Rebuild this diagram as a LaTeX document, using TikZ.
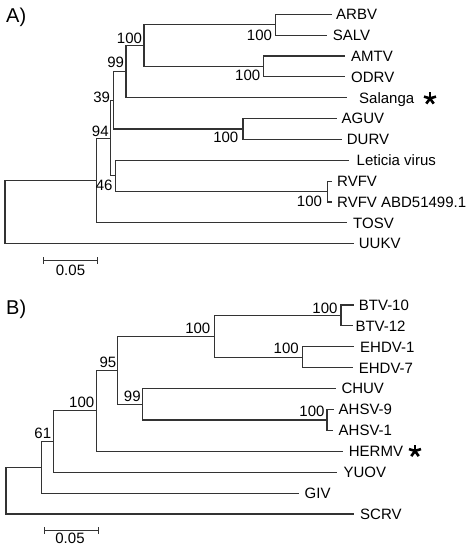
\documentclass[tikz,border=0pt]{standalone}
\usepackage{fontspec}
\setmainfont{Liberation Sans}
\begin{document}
\begin{tikzpicture}[x=1pt,y=-1pt,
  br/.style={line width=1.1pt, draw=black!80},
  leaf/.style={anchor=base west, inner sep=0pt, yshift=-5.3pt, font=\fontsize{15}{18}\selectfont},
  boot/.style={anchor=center, inner sep=0pt, font=\fontsize{15}{18}\selectfont},
  panel/.style={anchor=base west, inner sep=0pt, font=\fontsize{20}{24}\selectfont},
  sbar/.style={line width=1.1pt, draw=black!80},
  starsty/.style={line width=2.6pt, line cap=butt}]
\useasboundingbox (0,0) rectangle (474,550);

% ---------------- Panel A ----------------
\node[panel] (lA) at (6,22.7) {A)};

\coordinate (tARBV) at (332,14.3);
\coordinate (tSALV) at (327,35.15);
\coordinate (tAMTV) at (345,56);
\coordinate (tODRV) at (345,76.85);
\coordinate (tSAL) at (347,97.7);
\coordinate (tAGUV) at (337,118.55);
\coordinate (tDURV) at (342,139.4);
\coordinate (tLET) at (348.7,160.25);
\coordinate (tRVFV) at (332,181.1);
\coordinate (tRVFVb) at (332,201.95);
\coordinate (tTOSV) at (347,222.8);
\coordinate (tUUKV) at (353.7,243.65);

\coordinate (a1) at (275.7,24.725);
\coordinate (a2) at (263.7,66.425);
\coordinate (a3) at (144,45.575);
\coordinate (a4) at (126,71.64);
\coordinate (a5) at (243,128.975);
\coordinate (a6) at (113.3,100.3);
\coordinate (a7) at (327.7,191.525);
\coordinate (a8) at (115.5,175.9);
\coordinate (a9) at (110.7,138.1);
\coordinate (a10) at (96.7,180.45);
\coordinate (aR) at (5,212.05);

\draw[br] (a1) |- (tARBV);  \draw[br] (a1) |- (tSALV);
\draw[br] (a2) |- (tAMTV);  \draw[br] (a2) |- (tODRV);
\draw[br] (a3) |- (a1);     \draw[br] (a3) |- (a2);
\draw[br] (a4) |- (a3);     \draw[br] (a4) |- (tSAL);
\draw[br] (a5) |- (tAGUV);  \draw[br] (a5) |- (tDURV);
\draw[br] (a6) |- (a4);     \draw[br] (a6) |- (a5);
\draw[br] (a7) |- (tRVFV);  \draw[br] (a7) |- (tRVFVb);
\draw[br] (a8) |- (tLET);   \draw[br] (a8) |- (a7);
\draw[br] (a9) |- (a6);     \draw[br] (a9) |- (a8);
\draw[br] (a10) |- (a9);    \draw[br] (a10) |- (tTOSV);
\draw[br] (aR) |- (a10);    \draw[br] (aR) |- (tUUKV);

\node[leaf] (nARBV) at (336,14.3) {ARBV};
\node[leaf] (nSALV) at (332.7,35.15) {SALV};
\node[leaf] (nAMTV) at (351,56) {AMTV};
\node[leaf] (nODRV) at (351,76.85) {ODRV};
\node[leaf] (nSAL) at (359,97.7) {Salanga};
\node[leaf] (nAGUV) at (341.5,118.55) {AGUV};
\node[leaf] (nDURV) at (346.7,139.4) {DURV};
\node[leaf] (nLET) at (356.5,160.25) {Leticia virus};
\node[leaf] (nRVFV) at (337,181.1) {RVFV};
\node[leaf] (nRVFVb) at (337,201.95) {RVFV ABD51499.1};
\node[leaf] (nTOSV) at (353,222.8) {TOSV};
\node[leaf] (nUUKV) at (358.7,243.65) {UUKV};

\node[boot] (bA1) at (259.5,35) {100};
\node[boot] (bA2) at (247.7,75) {100};
\node[boot] (bA3) at (129.5,38.3) {100};
\node[boot] (bA4) at (115.7,62) {99};
\node[boot] (bA6) at (101.7,97) {39};
\node[boot] (bA5) at (225.8,137.5) {100};
\node[boot] (bA9) at (100.3,131.7) {94};
\node[boot] (bA8) at (104.2,185) {46};
\node[boot] (bA7) at (309.5,201.7) {100};

\coordinate (sA) at (430,98.5);
\foreach \ang in {90,18,162,234,306} \draw[starsty] (sA) -- ++(\ang:6.3pt);

\coordinate (sbA1) at (43.3,260.7);
\coordinate (sbA2) at (97.7,260.7);
\draw[sbar] (sbA1) -- (sbA2);
\draw[sbar] ([yshift=3.3pt]sbA1) -- ([yshift=-3.3pt]sbA1);
\draw[sbar] ([yshift=3.3pt]sbA2) -- ([yshift=-3.3pt]sbA2);
\node[boot] (scA) at (70.5,270.7) {0.05};

% ---------------- Panel B ----------------
\node[panel] (lB) at (6,314.7) {B)};

\coordinate (tBTV10) at (354.3,305);
\coordinate (tBTV12) at (353,325.9);
\coordinate (tEHDV1) at (354.3,346.8);
\coordinate (tEHDV7) at (353,367.7);
\coordinate (tCHUV) at (336,388.6);
\coordinate (tAHSV9) at (333.7,409.5);
\coordinate (tAHSV1) at (332.7,430.4);
\coordinate (tHERMV) at (343,451.3);
\coordinate (tYUOV) at (337,472.2);
\coordinate (tGIV) at (298.7,493.1);
\coordinate (tSCRV) at (354.3,514);

\coordinate (b1) at (341,315.45);
\coordinate (b2) at (302.7,357.25);
\coordinate (b3) at (214.3,336.35);
\coordinate (b4) at (327,419.95);
\coordinate (b5) at (142.7,404.275);
\coordinate (b6) at (117.3,370.3);
\coordinate (b7) at (96.7,410.8);
\coordinate (b8) at (53.3,441.5);
\coordinate (b9) at (41.7,467.3);
\coordinate (bR) at (6,490.65);

\draw[br] (b1) |- (tBTV10);  \draw[br] (b1) |- (tBTV12);
\draw[br] (b2) |- (tEHDV1);  \draw[br] (b2) |- (tEHDV7);
\draw[br] (b3) |- (b1);      \draw[br] (b3) |- (b2);
\draw[br] (b4) |- (tAHSV9);  \draw[br] (b4) |- (tAHSV1);
\draw[br] (b5) |- (tCHUV);   \draw[br] (b5) |- (b4);
\draw[br] (b6) |- (b3);      \draw[br] (b6) |- (b5);
\draw[br] (b7) |- (b6);      \draw[br] (b7) |- (tHERMV);
\draw[br] (b8) |- (b7);      \draw[br] (b8) |- (tYUOV);
\draw[br] (b9) |- (b8);      \draw[br] (b9) |- (tGIV);
\draw[br] (bR) |- (b9);      \draw[br] (bR) |- (tSCRV);

\node[leaf] (nBTV10) at (358.7,305) {BTV-10};
\node[leaf] (nBTV12) at (355.3,325.9) {BTV-12};
\node[leaf] (nEHDV1) at (360,346.8) {EHDV-1};
\node[leaf] (nEHDV7) at (358.7,367.7) {EHDV-7};
\node[leaf] (nCHUV) at (341.3,388.6) {CHUV};
\node[leaf] (nAHSV9) at (338.5,409.5) {AHSV-9};
\node[leaf] (nAHSV1) at (338.5,430.4) {AHSV-1};
\node[leaf] (nHERMV) at (348.7,451.3) {HERMV};
\node[leaf] (nYUOV) at (343.3,472.2) {YUOV};
\node[leaf] (nGIV) at (304.5,493.1) {GIV};
\node[leaf] (nSCRV) at (360,514) {SCRV};

\node[boot] (bB1) at (325,308.3) {100};
\node[boot] (bB2) at (286.2,348.3) {100};
\node[boot] (bB3) at (197.8,328.7) {100};
\node[boot] (bB4) at (312,411.7) {100};
\node[boot] (bB6) at (108,362) {95};
\node[boot] (bB5) at (132.3,396.7) {99};
\node[boot] (bB7) at (81.7,402) {100};
\node[boot] (bB8) at (42.8,433.3) {61};

\coordinate (sB) at (415,451);
\foreach \ang in {90,18,162,234,306} \draw[starsty] (sB) -- ++(\ang:6.3pt);

\coordinate (sbB1) at (44.3,530.7);
\coordinate (sbB2) at (98.7,530.7);
\draw[sbar] (sbB1) -- (sbB2);
\draw[sbar] ([yshift=3.3pt]sbB1) -- ([yshift=-3.3pt]sbB1);
\draw[sbar] ([yshift=3.3pt]sbB2) -- ([yshift=-3.3pt]sbB2);
\node[boot] (scB) at (70,538.3) {0.05};
\end{tikzpicture}
\end{document}
